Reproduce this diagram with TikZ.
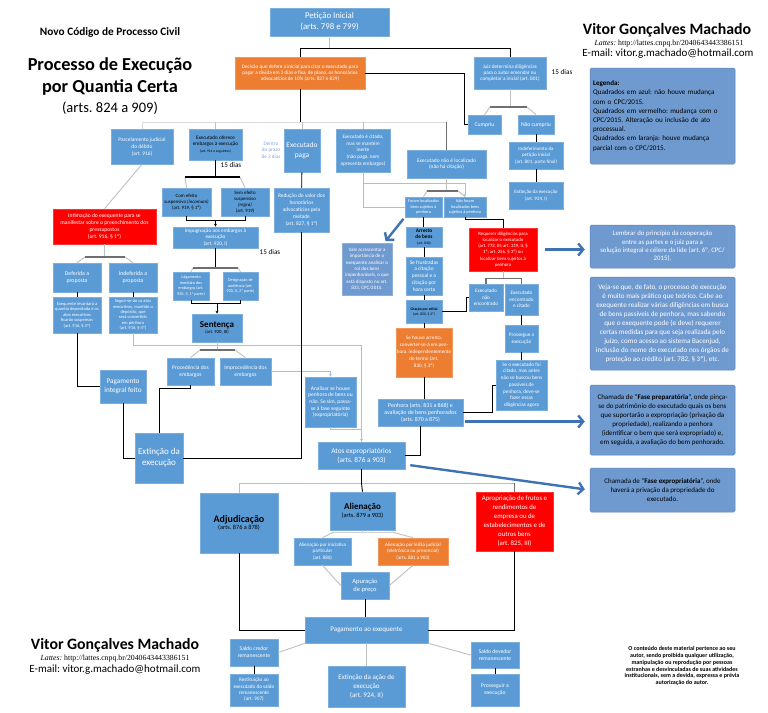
\documentclass[tikz,border=0pt]{standalone}
\usepackage{fontspec}
\setmainfont{Carlito}
\newfontfamily\serifface{Liberation Serif}
\frenchspacing
\usetikzlibrary{arrows.meta,positioning,calc}
\definecolor{pblue}{HTML}{5B9BD5}
\definecolor{pred}{HTML}{FF0000}
\definecolor{porange}{HTML}{ED7D31}
\definecolor{sblue}{HTML}{6F9AD0}
\definecolor{lblue}{HTML}{9DC3E6}
\definecolor{ltext}{HTML}{7FA7D9}
\definecolor{bigblue}{HTML}{3E73B3}
\definecolor{lgray}{HTML}{BFBFBF}
\definecolor{dgray}{HTML}{6F6F6F}
\tikzset{
  % flat box, white text
  box/.style    = {rectangle, fill=#1, draw=#1!80!white, line width=0.6pt, align=center,
                   text=white, inner sep=1pt, font=\fontsize{5}{6.5}\selectfont},
  box/.default  = pblue,
  scroll/.style = {rectangle, rounded corners=1.5pt, fill=sblue, draw=sblue!85!black,
                   line width=0.5pt, align=center, inner sep=3pt},
  sz/.style 2 args = {minimum width=#1pt, minimum height=#2pt},
  fs/.style 2 args = {font=\fontsize{#1}{#2}\selectfont},
  note/.style   = {align=center, inner sep=0pt},
  lk/.style     = {draw=black, line width=0.9pt},
  gk/.style     = {draw=lgray, line width=0.9pt},
  fork/.style   = {draw=dgray, line width=1.4pt},
  lbk/.style    = {draw=lblue, line width=0.8pt},
  tip/.style    = {-{Stealth[length=3pt,width=3pt]}},
  big/.style    = {-{Straight Barb[length=5pt,width=12pt]}, draw=bigblue, line width=2.4pt},
}
\begin{document}
\begin{tikzpicture}[x=1pt,y=-1pt]
\fill[white] (0,0) rectangle (768,712);
\useasboundingbox (0,0) rectangle (768,712);
% titles
\node[note, font={\fontsize{11.3}{13}\selectfont\bfseries}] (hdr) at (110,32) {Novo Código de Processo Civil};
\node[note, font={\fontsize{18.3}{22}\selectfont\bfseries}] (ttl) at (110,77) {Processo de Execução\\por Quantia Certa};
\node[note, fs={14.5}{16}] (ttlart) at (110,108) {(arts. 824 a 909)};
\node[note, font={\fontsize{15.8}{18}\selectfont\bfseries}] (au1) at (667,30) {Vitor Gonçalves Machado};
\node[note, fs={7.8}{9}] (la1) at (669,44) {\serifface\textit{Lattes:} http://lattes.cnpq.br/2040643443386151};
\node[note, fs={11}{12}] (em1) at (668,54) {E-mail: vitor.g.machado@hotmail.com};
\node[note, font={\fontsize{15.8}{18}\selectfont\bfseries}] (au2) at (115,645) {Vitor Gonçalves Machado};
\node[note, fs={7.8}{9}] (la2) at (115,659) {\serifface\textit{Lattes:} http://lattes.cnpq.br/2040643443386151};
\node[note, fs={11}{12}] (em2) at (115,670) {E-mail: vitor.g.machado@hotmail.com};
\node[note, font={\fontsize{6}{6.8}\selectfont\bfseries}] (disc) at (682,666) {O conteúdo deste material pertence ao seu\\autor, sendo proibida qualquer utilização,\\manipulação ou reprodução por pessoas\\estranhas e desvinculadas de suas atividades\\institucionais, sem a devida, expressa e prévia\\autorização do autor.};
% side notes
\node[scroll, sz={145}{96}, align=left, text width=139pt, fs={7.1}{9.2}] (leg) at (662.5,116) {\textbf{Legenda:}\\* Quadrados em azul: não houve mudança\\com o CPC/2015.\\* Quadrados em vermelho: mudança com o\\CPC/2015. Alteração ou inclusão de ato\\processual.\\* Quadrados em laranja: houve mudança\\parcial com o CPC/2015.};
\node[scroll, sz={145}{43}, text=white, fs={6.8}{8.4}] (lemb) at (662.5,246.5) {Lembrar do princípio da cooperação\\entre as partes e o juiz para a\\solução integral e célere da lide (art. 6º, CPC/\\2015).};
\node[scroll, sz={145}{93}, text=white, fs={7.1}{9}] (veja) at (662.5,323.5) {Veja-se que, de fato, o processo de execução\\é muito mais prático que teórico. Cabe ao\\exequente realizar várias diligências em busca\\de bens passíveis de penhora, mas sabendo\\que o exequente pode (e deve) requerer\\certas medidas para que seja realizada pelo\\juízo, como acesso ao sistema Bacenjud,\\inclusão do nome do executado nos órgãos de\\proteção ao crédito (art. 782, § 3º), etc.};
\node[scroll, sz={145}{70}, fs={7}{9}] (prep) at (662.5,420) {Chamada de “\textbf{Fase preparatória}”, onde pinça-\\se do patrimônio do executado quais os bens\\que suportarão a expropriação (privação da\\propriedade), realizando a penhora\\(identificar o bem que será expropriado) e,\\em seguida, a avaliação do bem penhorado.};
\node[scroll, sz={145}{44}, fs={7}{9}] (expr) at (662.5,490) {Chamada de “\textbf{Fase expropriatória}”, onde\\haverá a privação da propriedade do\\executado.};
% top row
\node[box, sz={119}{28}, fs={8.8}{11}] (pet) at (329.5,22) {Petição Inicial\\(arts. 798 e 799)};
\node[box=porange, sz={130}{32}, fs={5.2}{6.3}] (dec) at (300,73) {Decisão que defere a inicial para citar o executado para\\pagar a dívida em 3 dias e fixa, de plano, os honorários\\advocatícios de 10\% (arts. 827 e 829)};
\node[box, sz={72}{32}, fs={5.2}{6.3}] (juiz) at (510,73) {Juiz determina diligências\\para o autor emendar ou\\completar a inicial (art. 801)};
\node[note, fs={7.2}{8}] (d15a) at (562,72) {15 dias};
\node[box, sz={33}{19}, fs={5.7}{7}] (cump) at (484.5,124.5) {Cumpriu};
\node[box, sz={36}{19}, fs={5.7}{7}] (ncump) at (536,124.5) {Não cumpriu};
\node[box, sz={54}{27}, fs={5}{6.8}] (indef) at (536,155.5) {Indeferimento da\\petição inicial\\(art. 801, parte final)};
\node[box, sz={54}{27}, fs={5}{6.8}] (extA) at (536,195.5) {Extinção da execução\\(art. 924, I)};
% second row
\node[box, sz={62}{35}, fs={5.4}{7}] (parc) at (142,146.5) {Parcelamento judicial\\do débito\\(art. 916)};
\node[box, sz={53}{31}, text=black, fs={5.2}{6.5}] (emb) at (215.5,144.5) {Executado oferece\\embargos à execução\\{\fontsize{3.6}{5}\selectfont(art. 914 e seguintes)}};
\node[note, text=ltext, fs={5.2}{6.5}] (prazo) at (271,150) {Dentro\\do prazo\\de 3 dias};
\node[box, sz={36}{43}, fs={7.4}{9.5}] (paga) at (302,150.5) {Executado\\paga};
\node[box, sz={54}{43}, fs={5.2}{6.8}] (inerte) at (363,150.5) {Executado é citado,\\mas se mantém\\inerte\\(não paga, nem\\apresenta embargos)};
\node[box, sz={79}{28}, fs={5.4}{6.8}] (nloc) at (446.5,164) {Executado não é localizado\\(não há citação)};
% parcelamento
\node[box=pred, sz={103}{35}, fs={5.6}{6.9}] (intim) at (104.5,226.5) {Intimação do exequente para se\\manifestar sobre o preenchimento dos\\pressupostos\\(art. 916, § 1º)};
\node[box, sz={48}{29}, fs={5.8}{7}] (def) at (77,277.5) {Deferida a\\proposta};
\node[box, sz={48}{29}, fs={5.8}{7}] (indf) at (133,277.5) {Indeferida a\\proposta};
\node[box, sz={48}{36}, fs={4.5}{5.6}] (levant) at (77,315) {Exequente levantará a\\quantia depositada e os\\atos executivos\\ficarão suspensos\\(art. 916, § 3º)};
\node[box, sz={48}{36}, fs={4.5}{5.4}] (seguir) at (133,315) {Seguir-se-ão os atos\\executivos, mantido o\\depósito, que\\será convertido\\em penhora\\(art. 916, § 4º)};
\node[box, sz={46}{33}, fs={7.2}{9.5}] (pagint) at (123,386.5) {Pagamento\\integral feito};
\node[box, sz={48}{50}, fs={9}{11}] (extB) at (159,458) {Extinção da\\execução};
% embargos
\node[note, fs={7.2}{8}] (d15b) at (231,165) {15 dias};
\node[box, sz={49}{28}, text=black, fs={4.9}{6.2}] (com) at (186.5,202) {Com efeito\\suspensivo \textit{(incomum)}\\(art. 919, § 1º)};
\node[box, sz={48}{28}, text=black, fs={4.9}{6.2}] (sem) at (245,202) {Sem efeito\\suspensivo\\\textit{(regra)}\\(art. 919)};
\node[box, sz={85}{21}, fs={5.3}{6.3}] (impug) at (215.5,237.5) {Impugnação aos embargos à\\execução\\(art. 920, I)};
\node[note, fs={7.2}{8}] (d15c) at (270,252) {15 dias};
\node[box, sz={36}{28}, fs={4.2}{5.5}] (julg) at (191,286) {Julgamento\\imediato dos\\embargos (art.\\920, II, 1ª parte)};
\node[box, sz={35}{28}, fs={4.2}{5.5}] (aud) at (240.5,286) {Designação de\\audiência (art.\\920, II, 2ª parte)};
\node[box, sz={50}{28}, text=black, fs={4.7}{6}] (sent) at (217,328) {{\fontsize{9}{10}\selectfont\textbf{Sentença}}\\(art. 920, III)};
\node[box, sz={47}{27}, fs={5.5}{7}] (proc) at (190.5,371.5) {Procedência dos\\embargos};
\node[box, sz={51}{27}, fs={5.5}{7}] (improc) at (245.5,371.5) {Improcedência dos\\embargos};
% centre column
\node[box, sz={55}{44}, fs={5.4}{6.8}] (reduc) at (301.5,210) {Redução do valor dos\\honorários\\advocatícios pela\\metade\\(art. 827, § 1º)};
\node[box=sblue, sz={50}{52}, fs={5}{6.4}] (vale) at (367,269) {Vale acrescentar a\\importância de o\\exequente analisar o\\rol dos bens\\impenhoráveis, o que\\está disposto no art.\\833, CPC/2015.};
\node[box, sz={51}{50}, fs={5.5}{6.7}] (anal) at (330.5,402) {Analisar se houve\\penhora de bens ou\\não. Se sim, passa-\\se à fase seguinte\\(expropriatória)};
\node[box, sz={87}{27}, fs={7.3}{9}] (atos) at (361.5,455.5) {Atos expropriatórios\\(arts. 876 a 903)};
% executado nao localizado
\node[box, sz={37}{20}, fs={4.3}{5.8}] (floc) at (423.5,207) {Foram localizados\\bens sujeitos à\\penhora};
\node[box, sz={42}{20}, fs={4.3}{5.8}] (nfloc) at (465,207) {Não foram\\localizados bens\\sujeitos à penhora};
\node[box, sz={36}{20}, text=black, fs={5.3}{6.3}] (arr) at (424,237) {\textbf{Arresto}\\\textbf{de bens}\\{\fontsize{3.6}{4.5}\selectfont(art. 830)}};
\node[box, sz={36}{38}, fs={5.4}{6.9}] (frust) at (424,276) {Se frustradas\\a citação\\pessoal e a\\citação por\\hora certa};
\node[box, sz={36}{23}, text=black, fs={3.7}{5}] (edit) at (424,311.5) {\textbf{Citação por edital}\\(art. 830, § 2º)};
\node[box=porange, sz={54}{49}, fs={5.1}{7}] (conv) at (424,352.5) {Se houve arresto,\\converter-se-á em pen-\\hora, independentemente\\de termo (art.\\830, § 3º)};
\node[box, sz={85}{27}, fs={5.9}{7}] (penh) at (420.5,412.5) {Penhora (arts. 831 a 868) e\\avaliação de bens penhorados\\(arts. 870 a 875)};
\node[box=pred, sz={68}{43}, fs={4.8}{6.3}] (req) at (503,249.5) {Requerer diligências para\\localizar o executado\\(art. 772, III; art. 319, II, §\\1º; art. 256, § 3º) ou\\localizar bens sujeitos à\\penhora};
\node[box, sz={34}{27}, fs={5.2}{6.7}] (nenc) at (486,297.5) {Executado\\não\\encontrado};
\node[box, sz={33}{31}, fs={5.2}{6.7}] (enc) at (521.5,299.5) {Executado\\encontrado\\e citado};
\node[box, sz={33}{27}, fs={5.2}{6.7}] (pross) at (521.5,338.5) {Prossegue a\\execução};
\node[box, sz={51}{50}, fs={5.2}{6.7}] (seex) at (521.5,385) {Se o executado foi\\citado, mas antes\\não se buscou bens\\passíveis de\\penhora, deve-se\\fazer essas\\diligências agora};
% expropriacao
\node[box, sz={78}{60}, text=black, fs={6.3}{7.5}] (adj) at (239,523) {{\fontsize{10}{12}\selectfont\textbf{Adjudicação}}\\(arts. 876 a 878)};
\node[box, sz={65}{38}, text=black, fs={6.3}{7.5}] (alien) at (362.5,511) {{\fontsize{9}{11}\selectfont\textbf{Alienação}}\\(arts. 879 a 903)};
\node[box=pred, sz={77}{59}, fs={6.8}{9}] (apro) at (514.5,521.5) {Apropriação de frutos e\\rendimentos de\\empresa ou de\\estabelecimentos e de\\outros bens\\(art. 825, III)};
\node[box, sz={57}{27}, fs={5}{6.2}] (part) at (322.5,551.5) {Alienação por iniciativa\\particular\\(art. 880)};
\node[box=porange, sz={70}{27}, fs={5}{6.2}] (leil) at (413,551.5) {Alienação por leilão judicial\\(eletrônico ou presencial)\\(arts. 881 a 903)};
\node[box, sz={48}{27}, fs={6.5}{8}] (apur) at (365,585.5) {Apuração\\de preço};
\node[box, sz={123}{26}, fs={7}{8}] (pagex) at (366.5,630) {Pagamento ao exequente};
\node[box, sz={48}{27}, fs={5.6}{7}] (scred) at (254,652.5) {Saldo credor\\remanescente};
\node[box, sz={48}{32}, fs={5.2}{6.3}] (rest) at (254,690) {Restituição ao\\executado do saldo\\remanescente\\(art. 907)};
\node[box, sz={77}{41}, fs={7}{8.7}] (extC) at (366.5,686.5) {Extinção da ação de\\execução\\(art. 924, II)};
\node[box, sz={48}{26}, fs={5.6}{7}] (sdev) at (495,655) {Saldo devedor\\remanescente};
\node[box, sz={48}{32}, fs={5.6}{7}] (prosB) at (495,690) {Prosseguir a\\execução};
% top links
\draw[gk] (pet.south) -- (pet.south |- 0,49);
\draw[lk] (dec.north) -- ++(0,-8) -| (juiz.north);
\draw[lk] (dec.east) -| ([xshift=-3pt]cump.west) -- (cump.west);
\draw[gk] (juiz.south) -- (juiz.south |- 0,107);
\draw[gk] (490,107) -- (cump.north);
\draw[gk] (527,107) -- (ncump.north);
\draw[fork] (490,107) -- (527,107);
\draw[lk] (ncump) -- (indef);
\draw[lk] (indef) -- (extA);
% trunk
\draw[lk] (dec.south) -- (dec.south |- 0,122);
\draw[gk, draw=lgray!60] (parc.north) |- (nloc.north |- 0,122);
\foreach \n in {emb,paga,inerte} \draw[gk] (\n.north) -- (\n.north |- 0,122);
\draw[lk, draw=dgray] (nloc.north) -- (nloc.north |- 0,122);
% parcelamento
\draw[gk] (parc.south) -- (intim.north);
\draw[gk] (intim.south) -- (intim.south |- 0,257);
\draw[gk] (85,257) -- (def.north);
\draw[gk] (125,257) -- (indf.north);
\draw[fork] (85,257) -- (125,257);
\draw[lk] (def) -- (levant);
\draw[lk] (indf) -- (seguir);
\draw[lk] (levant.south) |- (pagint.west);
\draw[lk] (pagint.south) |- (extB.west);
\draw[lbk, tip] (seguir.south) -- ++(0,12) -| (atos.north);
% embargos
\draw[lk] (emb.south) -- (emb.south |- 0,177);
\draw[gk] (185,177) -- (com.north);
\draw[gk] (240,177) -- (sem.north);
\draw[fork, draw=black] (185,177) -- (240,177);
\draw[lk] (com.south) -- ++(0,4) -| (sem.south);
\draw[lk, tip] (emb.south |- 0,220) -- (impug.north);
\draw[lk] (impug.south) -- (impug.south |- 0,268);
\draw[gk] (193,268) -- (julg.north);
\draw[gk] (238,268) -- (aud.north);
\draw[fork] (193,268) -- (238,268);
\draw[lk] (julg.south) -- ++(0,3) -| (aud.south);
\draw[lk, tip] (sent.north |- 0,303) -- (sent.north);
\draw[gk] (sent.south) -- (sent.south |- 0,350);
\draw[gk] (200,350) -- (proc.north);
\draw[gk] (235,350) -- (improc.north);
\draw[fork] (200,350) -- (235,350);
\draw[lk] (proc.south) -- ++(0,3) -| (extB.north);
\draw[lbk, tip] (improc.east) -| (anal.north);
\draw[lbk] (anal.south) -- ++(0,2) -| (atos.north);
% executado paga
\draw[lk] (paga) -- (reduc);
\draw[lk] (reduc.south) |- (extB.east);
% executado inerte
\draw[lbk] (inerte.south) |- (floc.west);
\draw[lbk, tip] (inerte.south) -- ++(0,11) -| (nfloc.north);
% nao localizado
\draw[gk] (nloc.south) -- (nloc.south |- 0,191);
\draw[gk] (427,191) -- (floc.north);
\draw[gk] (458,191) -- (nfloc.north);
\draw[fork] (427,191) -- (458,191);
\draw[lk] (floc.south) -- (floc.south |- arr.north);
\draw[lk] (arr) -- (frust);
\draw[lk] (frust) -- (edit);
\draw[lk] (edit) -- (conv);
\draw[lk] (conv.south) -- (conv.south |- penh.north);
\draw[lk] (penh.south) |- (atos.east);
\draw[lk] (nfloc.south) -- ++(0,2) -| (req.north);
\draw[gk] (req.south) -- (req.south |- 0,279);
\draw[fork] (nenc.north) -- ++(0,-5) -| (enc.north);
\draw[lk] (nenc.west) -- ++(-2,0) |- (edit.east);
\draw[lk] (enc) -- (pross);
\draw[lk] (pross) -- (seex);
\draw[lk] (seex.west) -- ++(-3,0) |- (penh.east);
% expropriacao
\draw[lk] (atos.south) -- (atos.south |- 0,483);
\draw[gk] (adj.north) |- (apro.north |- 0,483);
\draw[lk] (atos.south |- 0,483) -- (alien.north);
\draw[lk, draw=dgray] (apro.north) -- (apro.north |- 0,483);
\draw[gk] (alien.south) -- (alien.south |- 0,532);
\draw[gk] (334,532) -- (part.north);
\draw[gk] (392,532) -- (leil.north);
\draw[gk, draw=lgray!70] (334,532) -- (392,532);
\draw[gk] (part.south) -- (apur.west);
\draw[gk] (leil.south) -- (apur.east);
\draw[lk] (apur.south) -- (apur.south |- pagex.north);
\draw[lk] (adj.south) |- (pagex.west);
\draw[lk] (apro.south) |- (pagex.east);
\draw[gk] (pagex.south west) -- (scred.east);
\draw[gk] (pagex.south) -- (extC.north);
\draw[gk] (pagex.south east) -- (sdev.west);
\draw[lk] (scred) -- (rest);
\draw[lk] (sdev) -- (prosB);
% big arrows to the notes
\draw[big, shorten <=8pt, shorten >=5pt] (req.east) -- (req.east -| lemb.west);
\coordinate (pa) at ([yshift=-9pt]penh.east);
\draw[big, shorten <=2pt, shorten >=5pt] (pa) -- (pa -| prep.west);
\coordinate (aa) at ([yshift=-9pt]atos.east);
\draw[big, shorten <=5pt, shorten >=5pt] (aa) -- (expr.west);
\coordinate (va) at ([xshift=-8pt]vale.north east);
\draw[big, shorten <=2pt, shorten >=2pt] (floc.south west) -- (va);
\end{tikzpicture}
\end{document}
